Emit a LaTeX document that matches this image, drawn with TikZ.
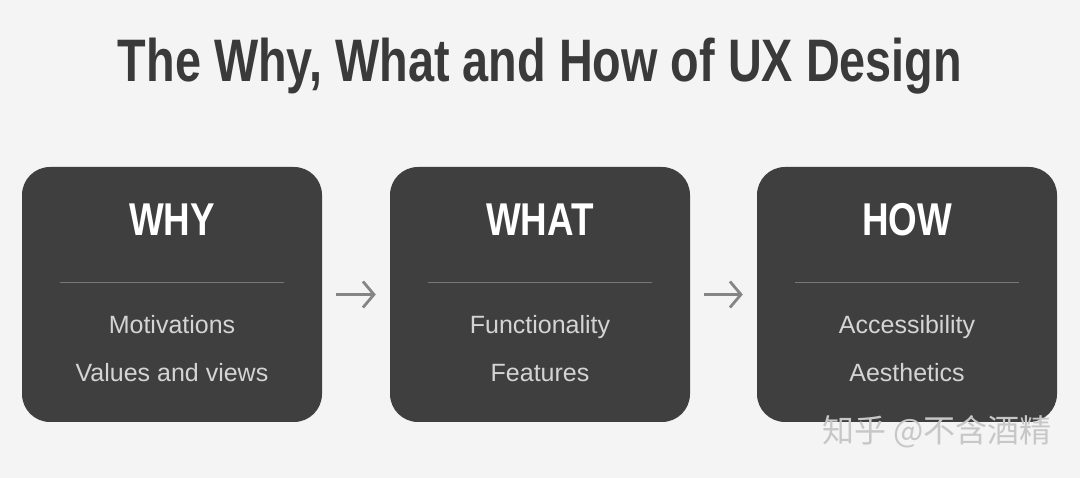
\documentclass[tikz,border=0pt]{standalone}
\usepackage{fontspec}
\setmainfont{Liberation Sans}
\newfontfamily\cjk{Noto Sans CJK SC}
\usetikzlibrary{arrows.meta}
\definecolor{bg}{HTML}{F4F4F4}
\definecolor{boxc}{HTML}{3F3F3F}
\definecolor{titlec}{HTML}{3A3A3A}
\definecolor{bodyc}{HTML}{D4D4D4}
\definecolor{arrc}{HTML}{858585}
\begin{document}
\begin{tikzpicture}[x=1pt,y=-1pt,
  card/.style={fill=boxc,rounded corners=28pt,minimum width=300pt,minimum height=255pt,inner sep=0},
  head/.style={text=white,font=\fontsize{46}{46}\selectfont\bfseries},
  body/.style={text=bodyc,font=\fontsize{25}{25}\selectfont,anchor=base},
  flow/.style={arrc,line width=2.8pt,-{Straight Barb[length=11pt,width=26pt,line width=2.8pt]}}]
\fill[bg] (0,0) rectangle (1080,478);
\useasboundingbox (0,0) rectangle (1080,478);
\node[text=titlec,font=\fontsize{60}{60}\selectfont\bfseries] (title) at (540,66) {\scalebox{0.78}[1]{The Why, What and How of UX Design}};
\foreach \n/\cx/\h/\a/\b in {why/172/WHY/Motivations/Values and views, what/540/WHAT/Functionality/Features, how/907/HOW/Accessibility/Aesthetics}{
  \node[card] (\n) at (\cx,294.5) {};
  \node[head] (\n h) at (\cx,220) {\scalebox{0.8}[1]{\h}};
  \draw[arrc!80!boxc,line width=1pt] ([xshift=38pt,yshift=-116pt]\n.north west) coordinate (\n l) -- ([xshift=-38pt,yshift=-116pt]\n.north east) coordinate (\n r);
  \node[body] (\n a) at (\cx,334) {\a};
  \node[body] (\n b) at (\cx,382) {\b};
}
\draw[flow] ([xshift=14pt]why.east) -- ([xshift=-14pt]what.west);
\draw[flow] ([xshift=14pt]what.east) -- ([xshift=-14pt]how.west);
\node[text=black!22,font=\cjk\fontsize{32}{32}\selectfont] (wm) at (937,432) {知乎 @不含酒精};
\end{tikzpicture}
\end{document}
